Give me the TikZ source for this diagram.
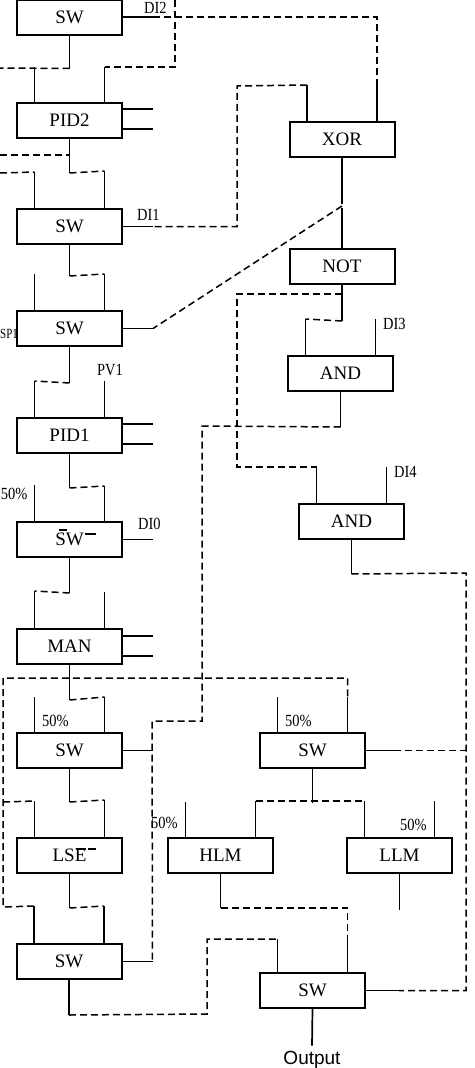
\documentclass[tikz,border=0pt]{standalone}
\usepackage{fontspec}
\setmainfont{Liberation Serif}
\newfontfamily\outfont{Liberation Sans}
\usetikzlibrary{calc}
\newcommand{\lbtxt}[1]{\scalebox{0.85}[1]{#1}}
\begin{document}
\begin{tikzpicture}[x=1pt,y=-1pt,
  blk/.style={draw, line width=2pt, minimum width=105pt, minimum height=35pt, inner sep=0pt, fill=white, font=\fontsize{19}{19}\selectfont},
  wire/.style={line width=1.7pt},
  dwire/.style={line width=1.5pt, dash pattern=on 7pt off 4pt},
  lbl/.style={inner sep=0pt, font=\fontsize{17}{17}\selectfont},
  art/.style={line width=1.1pt},
]
\useasboundingbox (0,0) rectangle (474,1068);
\clip (0,0) rectangle (474,1068);

% ---------- blocks ----------
\node[blk] (sw1)  at (69.5,17)    {SW};
\node[blk] (pid2) at (69.5,120.5) {PID2};
\node[blk] (sw2)  at (69.5,226.5) {SW};
\node[blk] (sw3)  at (69.5,328.5) {SW};
\node[blk] (pid1) at (69.5,435.5) {PID1};
\node[blk] (sw4)  at (69.5,539.5) {SW};
\node[blk] (man)  at (69.5,646.5) {MAN};
\node[blk] (sw5)  at (69.5,750.5) {SW};
\node[blk] (lse)  at (69.5,855.5) {LSE};
\node[blk] (sw6)  at (69,961.5)   {SW};
\node[blk] (xor)  at (342,139.5)  {XOR};
\node[blk] (not)  at (342,266.5)  {NOT};
\node[blk] (and1) at (340.5,373.5) {AND};
\node[blk] (and2) at (351.5,521.5) {AND};
\node[blk] (sw7)  at (312.5,750.5) {SW};
\node[blk] (hlm)  at (220.5,855.5) {HLM};
\node[blk] (llm)  at (399.5,855.5) {LLM};
\node[blk] (sw8)  at (312.5,990.5) {SW};

% ---------- labels ----------
\node[lbl, anchor=base west] (tdi2) at (144,13) {\lbtxt{DI2}};
\node[lbl, anchor=base west] (tdi1) at (137,220) {\lbtxt{DI1}};
\node[inner sep=0pt, font=\fontsize{14}{14}\selectfont, anchor=base west] (tsp1) at (0,338) {\scalebox{0.78}[1]{SP1}};
\node[lbl, anchor=base west] (tpv1) at (97,375) {\lbtxt{PV1}};
\node[lbl, anchor=base east] (tp1)  at (27.5,499) {\lbtxt{50\%}};
\node[lbl, anchor=base west] (tdi0) at (138,529) {\lbtxt{DI0}};
\node[lbl, anchor=base west] (tdi3) at (383,329) {\lbtxt{DI3}};
\node[lbl, anchor=base west] (tdi4) at (394,477) {\lbtxt{DI4}};
\node[lbl, anchor=base west] (tp2)  at (42,726) {\lbtxt{50\%}};
\node[lbl, anchor=base west] (tp3)  at (285,726) {\lbtxt{50\%}};
\node[lbl, anchor=base west] (tp4)  at (151,828) {\lbtxt{50\%}};
\node[lbl, anchor=base west] (tp5)  at (400,830) {\lbtxt{50\%}};
\node[inner sep=0pt, anchor=base, font=\outfont\fontsize{19}{19}\selectfont] (out) at (312,1064) {Output};

% ---------- top SW ----------
\draw[wire] (sw1.east) -- ++(30,0) coordinate (sw1o);
\draw[wire] ([xshift=35pt]xor.north) -- ++(0,-37) coordinate (xorR);
\draw[dwire] (sw1o) -| (xorR);
\draw[wire] (sw1.south) -- ++(0,33) coordinate (sw1b);
\coordinate (e1) at (0,68);
\draw[dwire] (sw1b) -- (e1);

% ---------- PID2 ----------
\draw[wire] ([xshift=-35pt]pid2.north) -- ++(0,-35) coordinate (pid2L);
\draw[wire] ([xshift=35pt]pid2.north) -- ++(0,-35) coordinate (pid2R);
\coordinate (di2) at (175,0);
\draw[dwire] (di2) |- (pid2R);
\draw[wire] ([yshift=11.5pt]pid2.east) -- ++(30,0);
\draw[wire] ([yshift=-8.5pt]pid2.east) -- ++(30,0);
\draw[wire] (pid2.south) -- ++(0,34) coordinate (pid2b);
\coordinate (e2) at (0,155);
\coordinate (j2) at (69.5,155);
\draw[dwire] (e2) -- (j2);

% ---------- SW2 ----------
\draw[wire] ([xshift=-35pt]sw2.north) -- ++(0,-36) coordinate (sw2L);
\draw[wire] ([xshift=35pt]sw2.north) -- ++(0,-37) coordinate (sw2R);
\draw[dwire] (pid2b) -- (sw2R);
\coordinate (e3) at (0,173);
\draw[dwire] (e3) -- (sw2L);
\draw[wire] (sw2.east) -- ++(30,0) coordinate (sw2o);
\draw[wire] ([xshift=-35pt]xor.north) -- ++(0,-36) coordinate (xorL);
\draw[dwire] (xorL) -- (237,86) |- (sw2o);
\draw[wire] (sw2.south) -- ++(0,31) coordinate (sw2b);

% ---------- SW3 ----------
\draw[wire] ([xshift=-35pt]sw3.north) -- ++(0,-36) coordinate (sw3L);
\draw[wire] ([xshift=35pt]sw3.north) -- ++(0,-36) coordinate (sw3R);
\draw[dwire] (sw2b) -- (sw3R);
\draw[wire] (sw3.east) -- ++(30,0) coordinate (sw3o);
\draw[wire] (sw3.south) -- ++(0,36) coordinate (sw3b);

% ---------- XOR / NOT ----------
\draw[wire] (xor.south) -- ++(0,39) coordinate (xorb);
\draw[wire] (not.north) -- ++(0,-36) coordinate (notin);
\draw[dwire] (xorb) -- (notin);
\coordinate (jx) at (342,206);
\draw[dwire] (jx) -- (sw3o);

% ---------- PID1 ----------
\draw[wire] ([xshift=-35pt]pid1.north) -- ++(0,-36) coordinate (pid1L);
\draw[wire] ([xshift=35pt]pid1.north) -- ++(0,-36) coordinate (pid1R);
\draw[dwire] (sw3b) -- (pid1L);
\draw[wire] ([yshift=11.5pt]pid1.east) -- ++(30,0);
\draw[wire] ([yshift=-8.5pt]pid1.east) -- ++(30,0);
\draw[wire] (pid1.south) -- ++(0,34) coordinate (pid1b);

% ---------- SW4 ----------
\draw[wire] ([xshift=-35pt]sw4.north) -- ++(0,-36) coordinate (sw4L);
\draw[wire] ([xshift=35pt]sw4.north) -- ++(0,-35) coordinate (sw4R);
\draw[dwire] (pid1b) -- (sw4R);
\draw[wire] (sw4.east) -- ++(30,0) coordinate (sw4o);
\draw[wire] (sw4.south) -- ++(0,35) coordinate (sw4b);
\draw[art] (59,530) -- (67,530);
\draw[art] (85,534) -- (96,534);

% ---------- MAN ----------
\draw[wire] ([xshift=-35pt]man.north) -- ++(0,-37) coordinate (manL);
\draw[wire] ([xshift=35pt]man.north) -- ++(0,-36) coordinate (manR);
\draw[dwire] (sw4b) -- (manL);
\draw[wire] ([yshift=10.5pt]man.east) -- ++(30,0);
\draw[wire] ([yshift=-9.5pt]man.east) -- ++(30,0);
\draw[wire] (man.south) -- ++(0,35) coordinate (manb);

% ---------- SW5 / SW7 inputs ----------
\draw[wire] ([xshift=-35pt]sw5.north) -- ++(0,-35) coordinate (sw5L);
\draw[wire] ([xshift=35pt]sw5.north) -- ++(0,-35) coordinate (sw5R);
\draw[dwire] (manb) -- (sw5R);
\draw[wire] ([xshift=-35pt]sw7.north) -- ++(0,-35) coordinate (sw7L);
\draw[wire] ([xshift=35pt]sw7.north) -- ++(0,-35) coordinate (sw7R);

% ---------- LSE / SW6 inputs ----------
\draw[wire] ([xshift=-35pt]lse.north) -- ++(0,-36) coordinate (lseL);
\draw[wire] ([xshift=35pt]lse.north) -- ++(0,-37) coordinate (lseR);
\draw[wire] ([xshift=-35pt]sw6.north) -- ++(0,-37) coordinate (sw6L);
\draw[wire] ([xshift=35pt]sw6.north) -- ++(0,-37) coordinate (sw6R);
\coordinate (lb) at (3,907);
\coordinate (lm) at (3,802);
\draw[dwire] (sw6L) -- (lb) -- (3,678) -| (sw7R);
\draw[dwire] (lm) -- (lseL);
\draw[wire] (sw5.east) -- ++(30,0) coordinate (sw5o);
\draw[wire] (sw5.south) -- ++(0,33) coordinate (sw5b);
\draw[dwire] (sw5b) -- (lseR);
\draw[wire] (lse.south) -- ++(0,34) coordinate (lseb);
\draw[dwire] (lseb) -- (sw6R);
\draw[art] (76,849) -- (86,849);
\draw[art] (88,849) -- (96,849);
\draw[wire] (sw6.east) -- ++(30,0) coordinate (sw6o);
\draw[wire] (sw6.south) -- ++(0,35) coordinate (sw6b);

% ---------- AND1 / AND2 ----------
\draw[wire] (not.south) -- ++(0,36) coordinate (notb);
\draw[wire] ([xshift=-35pt]and1.north) -- ++(0,-36) coordinate (and1L);
\draw[wire] ([xshift=35pt]and1.north) -- ++(0,-36) coordinate (and1R);
\draw[dwire] (notb) -- (and1L);
\draw[wire] ([xshift=-35pt]and2.north) -- ++(0,-36) coordinate (and2L);
\draw[wire] ([xshift=35pt]and2.north) -- ++(0,-36) coordinate (and2R);
\coordinate (jn) at (342,294);
\draw[dwire] (jn) -- (237,294) |- (and2L);
\draw[wire] (and1.south) -- ++(0,35) coordinate (and1b);
\draw[dwire] (and1b) -- (202,426) -- (202,721) -- (152,721) -- (sw6o);
\draw[wire] (and2.south) -- ++(0,34) coordinate (and2b);

% ---------- SW7 / SW8 select ----------
\draw[wire] (sw7.east) -- ++(28,0) coordinate (sw7o);
\draw[wire] (sw8.east) -- ++(33,0) coordinate (sw8o);
\draw[dwire] (and2b) -- (466,573) |- (sw8o);
\draw[dwire] (sw7o) -- (466,750.5);

% ---------- HLM / LLM ----------
\draw[wire] (sw7.south) -- ++(0,34) coordinate (sw7b);
\draw[wire] ([xshift=-35pt]hlm.north) -- ++(0,-35) coordinate (hlmL);
\draw[wire] ([xshift=35pt]hlm.north) -- ++(0,-36) coordinate (hlmR);
\draw[wire] ([xshift=-35pt]llm.north) -- ++(0,-36) coordinate (llmL);
\draw[wire] ([xshift=35pt]llm.north) -- ++(0,-36) coordinate (llmR);
\draw[dwire] (hlmR) -- (llmL);
\draw[wire] (hlm.south) -- ++(0,34) coordinate (hlmb);
\draw[wire] (llm.south) -- ++(0,36) coordinate (llmb);

% ---------- SW8 ----------
\draw[wire] ([xshift=-35pt]sw8.north) -- ++(0,-33) coordinate (sw8L);
\draw[wire] ([xshift=35pt]sw8.north) -- ++(0,-37) coordinate (sw8R);
\draw[dwire] (hlmb) -| (sw8R);
\draw[dwire] (sw6b) -- (207,1014) |- (sw8L);
\draw[wire] (sw8.south) -- ([yshift=5pt]out.north);
\end{tikzpicture}
\end{document}
